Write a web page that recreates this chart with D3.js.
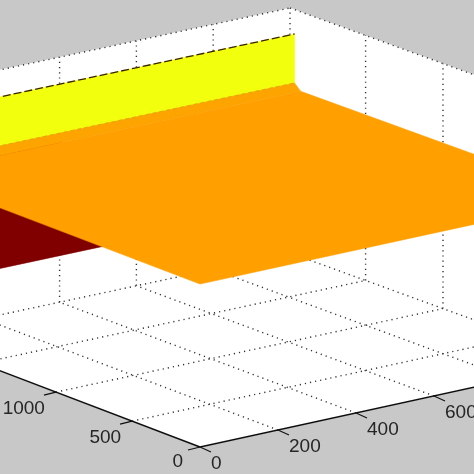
<!DOCTYPE html>
<html>
<head>
<meta charset="utf-8">
<script src="https://cdnjs.cloudflare.com/ajax/libs/d3/7.8.5/d3.min.js"></script>
<style>
  html, body { margin: 0; padding: 0; background: #c8c8c8; overflow: hidden; }
  svg { display: block; }
  text { font-family: "Liberation Sans", Arial, sans-serif; font-size: 19px; fill: #262626; }
</style>
</head>
<body>
<script>
// values
var xTicks = [0, 200, 400, 600];
var yTicks = [0, 500, 1000];
var xGrid = [200, 400, 600, 800];
var yGrid = [500, 1000, 1500];
var xWall = [400, 600, 800, 1000];
var yWall = [1000, 1500];

var surfaceX = [0, 1012];
var surfaceY = [0, 1960, 2000];
var surfaceZ = [0.665, 0.665, 0.69];
var wallZ = [0.69, 0.89];
var lowY = [1562, 2000];
var lowZ = [0.347, 0.665];

var colorZ = [0.347, 0.665, 0.89];
var colorHex = ['#800000', '#ff9f00', '#f2ff0a'];

var size = 474;
var root = d3.select('body').append('svg').attr('width', size).attr('height', size);
root.append('filter').attr('id', 'soft')
  .attr('filterUnits', 'userSpaceOnUse')
  .attr('x', 0).attr('y', 0).attr('width', size).attr('height', size)
  .append('feGaussianBlur').attr('stdDeviation', 0.45);
var svg = root.append('g').attr('filter', 'url(#soft)');
svg.append('rect').attr('width', size).attr('height', size).attr('fill', '#c8c8c8');

var xNorm = d3.scaleLinear().domain([0, 1000]).range([0, 1]);
var yNorm = d3.scaleLinear().domain([0, 500, 1000, 1500, 2000]).range([0, 0.231, 0.49, 0.748, 1]);
var zLift = d3.scaleLinear().domain([0, 1]).range([0, 245]);
var color = d3.scaleLinear().domain(colorZ).range(colorHex);

// floor corners on screen, everything else is mixed from these
var c00 = [200, 447], c10 = [590, 362], c01 = [-94, 335], c11 = [290, 253];

function project(x, y, z) {
  var u = xNorm(x), v = yNorm(y);
  var px = (1 - u) * (1 - v) * c00[0] + u * (1 - v) * c10[0] + (1 - u) * v * c01[0] + u * v * c11[0];
  var py = (1 - u) * (1 - v) * c00[1] + u * (1 - v) * c10[1] + (1 - u) * v * c01[1] + u * v * c11[1];
  return [px, py - zLift(z)];
}

var line = d3.line();

function poly(points, fill) {
  svg.append('path').attr('d', line(points) + 'Z').attr('fill', fill).attr('stroke', fill).attr('stroke-width', 0.5);
}

function dotted(a, b) {
  svg.append('path').attr('d', line([a, b]))
    .attr('fill', 'none').attr('stroke', '#333').attr('stroke-width', 1.4)
    .attr('stroke-dasharray', '1.2 4');
}

// white box
poly([project(0, 0, 0), project(1000, 0, 0), project(1000, 2000, 0), project(0, 2000, 0)], '#fff');
poly([project(0, 2000, 0), project(1000, 2000, 0), project(1000, 2000, 1), project(0, 2000, 1)], '#fff');
poly([project(1000, 2000, 0), project(1000, 0, 0), project(1000, 0, 1), project(1000, 2000, 1)], '#fff');

// grid
xGrid.forEach(function(d) { dotted(project(d, 0, 0), project(d, 2000, 0)); });
yGrid.forEach(function(d) { dotted(project(0, d, 0), project(1000, d, 0)); });
dotted(project(0, 2000, 0), project(1000, 2000, 0));
dotted(project(1000, 2000, 0), project(1000, 0, 0));
xWall.forEach(function(d) { dotted(project(d, 2000, 0), project(d, 2000, 1)); });
yWall.forEach(function(d) { dotted(project(1000, d, 0), project(1000, d, 1)); });
dotted(project(0, 2000, 1), project(1000, 2000, 1));
dotted(project(1000, 2000, 1), project(1000, 0, 1));

// surface, back to front
poly([project(surfaceX[0], lowY[0], lowZ[0]), project(400, lowY[0], lowZ[0]), project(400, lowY[1], lowZ[1]), project(surfaceX[0], lowY[1], lowZ[1])], color(lowZ[0]));

poly([project(surfaceX[0], 2000, wallZ[0]), project(surfaceX[1], 2000, wallZ[0]), project(surfaceX[1], 2000, wallZ[1]), project(surfaceX[0], 2000, wallZ[1])], color(wallZ[1]));

d3.range(surfaceY.length - 1).forEach(function(i) {
  var j = surfaceY.length - 2 - i;
  poly([
    project(surfaceX[0], surfaceY[j], surfaceZ[j]),
    project(surfaceX[1], surfaceY[j], surfaceZ[j]),
    project(surfaceX[1], surfaceY[j + 1], surfaceZ[j + 1]),
    project(surfaceX[0], surfaceY[j + 1], surfaceZ[j + 1])
  ], color((surfaceZ[j] + surfaceZ[j + 1]) / 2));
});

// dark dashes along the top of the yellow strip and its lower edge
svg.append('path').attr('d', line([project(surfaceX[0], 2000, wallZ[1]), project(surfaceX[1], 2000, wallZ[1])]))
  .attr('fill', 'none').attr('stroke', '#3a2200').attr('stroke-width', 1.3).attr('stroke-dasharray', '8 3');
svg.append('path').attr('d', line([project(surfaceX[0], 2000, wallZ[0]), project(surfaceX[1], 2000, wallZ[0])]))
  .attr('fill', 'none').attr('stroke', '#d9a400').attr('stroke-width', 0.8).attr('stroke-dasharray', '4 3');

// axes
function solid(a, b, w) {
  svg.append('path').attr('d', line([a, b])).attr('fill', 'none').attr('stroke', '#111').attr('stroke-width', w);
}
solid(project(0, 0, 0), project(1000, 0, 0), 1.5);
solid(project(0, 0, 0), project(0, 2000, 0), 1.5);

xTicks.forEach(function(d) {
  var p = project(d, 0, 0);
  solid(p, [p[0] + 11, p[1] + 5], 1.1);
  svg.append('text').attr('x', p[0] + 11).attr('y', p[1] + 22).attr('text-anchor', 'start').text(d);
});
yTicks.forEach(function(d) {
  var p = project(0, d, 0);
  solid(p, [p[0] - 12, p[1] + 3], 1.1);
  svg.append('text').attr('x', p[0] - (d === 0 ? 17 : 11)).attr('y', p[1] + (d === 0 ? 20 : 22)).attr('text-anchor', 'end').text(d);
});
</script>
</body>
</html>
